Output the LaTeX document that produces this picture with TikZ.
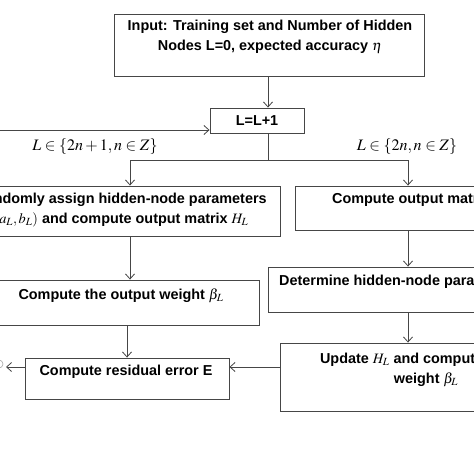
\documentclass[tikz,border=0pt]{standalone}
\usepackage{mathptmx}
\usepackage{fontspec}
\setmainfont{Liberation Sans}
\usetikzlibrary{arrows.meta}
\definecolor{ln}{RGB}{70,70,70}
\tikzset{
  box/.style={draw=ln, line width=0.9pt, rectangle, inner sep=0pt},
  txt/.style={font=\fontsize{14.4}{20}\selectfont\bfseries, align=center, inner sep=0pt, text=black},
  lbl/.style={font=\fontsize{16}{18}\selectfont, inner sep=0pt},
  conn/.style={draw=ln, line width=0.8pt},
  arr/.style={conn, -{Straight Barb[length=5pt,width=9pt]}}
}
\begin{document}
\begin{tikzpicture}[x=1pt,y=-1pt]
\useasboundingbox (0,0) rectangle (474,474);
\clip (0,0) rectangle (474,474);
% boxes
\node[box, minimum width=310, minimum height=62] (top) at (269,45) {};
\node[box, minimum width=94, minimum height=25] (inc) at (257,120.5) {};
\node[box, minimum width=300, minimum height=50] (lb2) at (130,211) {};
\node[box, minimum width=226, minimum height=44] (rb2) at (408,208) {};
\node[box, minimum width=280, minimum height=45] (lb3) at (119,302.5) {};
\node[box, minimum width=292, minimum height=45] (rb3) at (414,289.5) {};
\node[box, minimum width=204, minimum height=41] (lb4) at (127,378.5) {};
\node[box, minimum width=292, minimum height=68] (rb4) at (426,377) {};
% texts
\node[txt] (ttop) at (270,37) {Input: Training set and Number of Hidden\\Nodes L=0, expected accuracy $\eta$};
\node[txt] (tinc) at (257,121) {L=L+1};
\node[txt] (tlb2) at (121,210) {Randomly assign hidden-node parameters\\$(a_L,b_L)$ and compute output matrix $H_L$};
\node[txt, anchor=west] (trb2) at (332,200) {Compute output matrix $H_L$};
\node[txt] (tlb3) at (121,296) {Compute the output weight $\beta_L$};
\node[txt, anchor=west] (trb3) at (279,282) {Determine hidden-node parameters};
\node[txt] (tlb4) at (126,372) {Compute residual error E};
\node[txt] (trb4) at (426,370) {Update $H_L$ and compute output\\weight $\beta_L$};
\node[lbl] (lodd) at (95,147) {$L\in\{2n+1,n\in Z\}$};
\node[lbl] (leven) at (407,147) {$L\in\{2n,n\in Z\}$};
% coordinates
\coordinate (fb) at (0,130);
\coordinate (split) at (268,160);
\coordinate (ey) at (6,367);
\coordinate (lx) at (130,0);
% connectors
\draw[arr] (top.south -| split) -- (inc.north -| split);
\draw[arr] (fb) -- (fb -| inc.west);
\draw[conn] (inc.south -| split) -- (split);
\draw[arr] (split) -| (lb2.north);
\draw[arr] (split) -| (rb2.north);
\draw[arr] (lb2.south) -- (lb2.south |- lb3.north);
\draw[arr] (lb3.south -| lb4.north) -- (lb4.north);
\draw[arr] (rb2.south) -- (rb2.south |- rb3.north);
\draw[arr] (rb3.south -| rb2.south) -- (rb4.north -| rb2.south);
\draw[arr] (rb4.west |- ey) -- (lb4.east |- ey);
\draw[arr] (lb4.west |- ey) -- (ey);
\draw[black!35, line width=0.6pt] (-1,364) circle (4);
\end{tikzpicture}
\end{document}
